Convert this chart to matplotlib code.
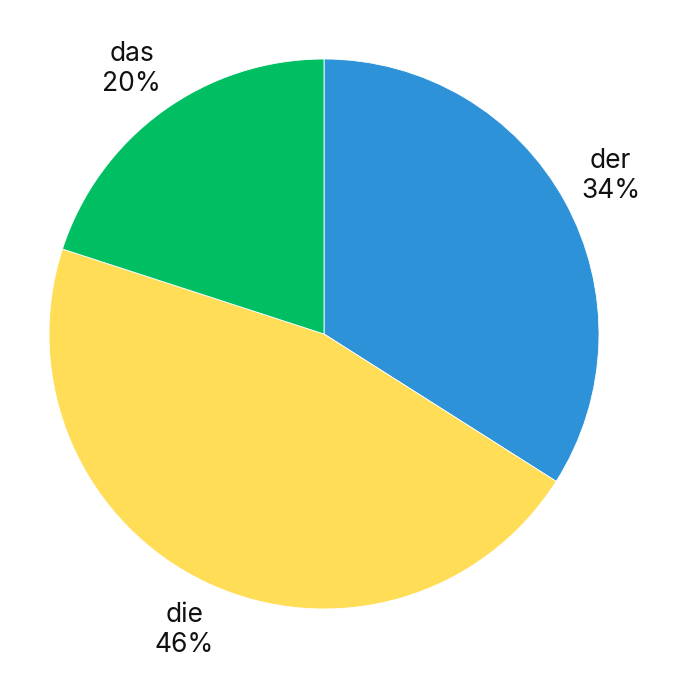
import matplotlib.pyplot as plt

labels = ['der', 'die', 'das']
shares = [34, 46, 20]
colors = ['#2D92D7', '#FFDD57', '#00BF63']

plt.rcParams['font.family'] = ['Inter', 'DejaVu Sans']

fig = plt.figure(figsize=(6.99, 7.0), dpi=100)
ax = fig.add_axes([49 / 699, 91 / 700, 550 / 699, 550 / 700])

texts = ax.pie(
    shares,
    labels=[f'{l}\n{s}%' for l, s in zip(labels, shares)],
    colors=colors,
    startangle=90,
    counterclock=False,
    labeldistance=1.19,
    wedgeprops={'linewidth': 0.6, 'edgecolor': 'white'},
    textprops={'fontsize': 19, 'color': '#111111'},
)[1]
for t in texts:
    t.set_horizontalalignment('center')
    t.set_verticalalignment('center')
    t.set_linespacing(1.2)

ax.set_xlim(-1, 1)
ax.set_ylim(-1, 1)
ax.set_aspect('equal')
ax.axis('off')

plt.savefig('out.png', dpi=100)
